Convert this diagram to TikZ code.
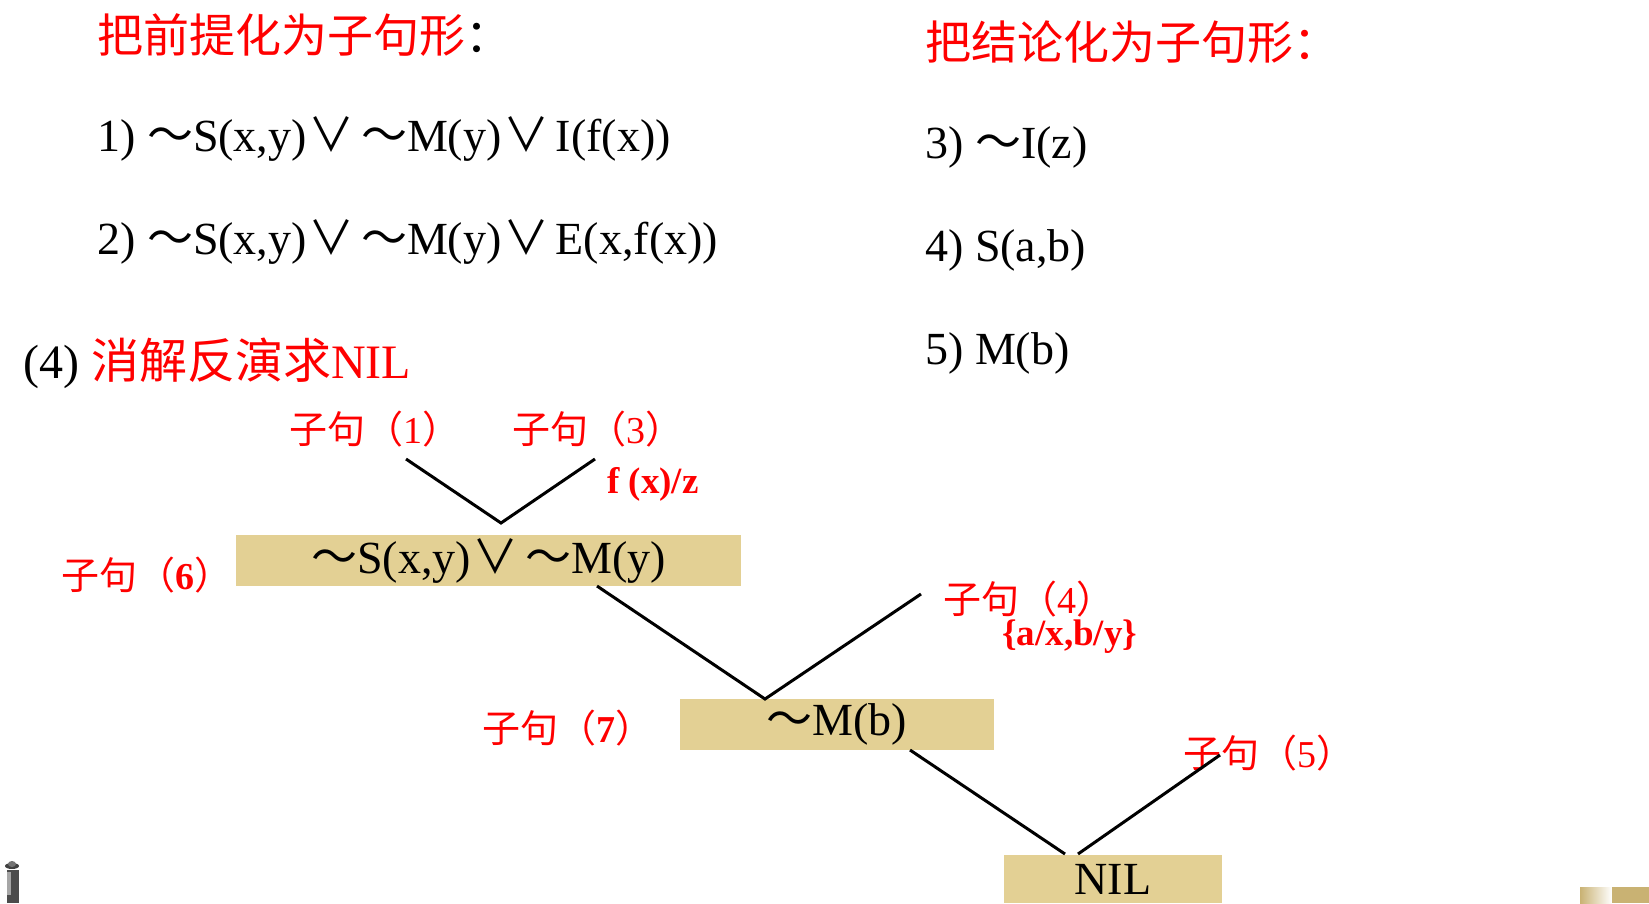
\documentclass[tikz,border=0pt]{standalone}
\usepackage{fontspec}
\setmainfont{Liberation Serif}
\newfontfamily\cjk{Noto Sans CJK SC}
\definecolor{boxfill}{RGB}{227,208,148}
\definecolor{deco}{RGB}{201,178,115}
\newcommand\nt{{\cjk ～}}
\newcommand\myor{\hspace{0.04em}{\cjk ∨}\hspace{0.14em}}
\tikzset{
  big/.style={anchor=west,inner sep=0pt,font=\fontsize{46}{50}\selectfont},
  lab/.style={anchor=west,inner sep=0pt,text=red,font=\fontsize{38}{40}\selectfont},
  sub/.style={anchor=west,inner sep=0pt,text=red,font=\fontsize{37}{40}\selectfont\bfseries},
  resbox/.style={fill=boxfill,inner sep=0pt,font=\fontsize{46}{50}\selectfont},
  edge/.style={line width=3pt}
}
\begin{document}
\begin{tikzpicture}[x=1pt,y=-1pt]
\useasboundingbox (0,0) rectangle (1649,903);
% premises
\node[big,text=red] (t1) at (97,35) {\cjk 把前提化为子句形\textcolor{black}{：}};
\node[big] (p1) at (97,139) {1) \nt S(x,y)\myor\nt M(y)\myor I(f(x))};
\node[big] (p2) at (97,242) {2) \nt S(x,y)\myor\nt M(y)\myor E(x,f(x))};
\node[big,font=\fontsize{48}{50}\selectfont] (t4) at (23,363) {(4) \textcolor{red}{{\cjk 消解反演求}NIL}};
% conclusion
\node[big,text=red] (t2) at (925,42) {\cjk 把结论化为子句形：};
\node[big] (p3) at (925,147) {3) \nt I(z)};
\node[big] (p4) at (925,250) {4) S(a,b)};
\node[big] (p5) at (925,353) {5) M(b)};
% tree labels
\node[lab] (l1) at (289,429) {{\cjk 子句（}1{\cjk ）}};
\node[lab] (l3) at (512,429) {{\cjk 子句（}3{\cjk ）}};
\node[sub] (s1) at (607,484) {f (x)/z};
\node[lab] (l6) at (61,575) {{\cjk 子句（}\textbf{6}{\cjk ）}};
\node[lab] (l4) at (943,599) {{\cjk 子句（}4{\cjk ）}};
\node[sub] (s2) at (1002,637) {\{a/x,b/y\}};
\node[lab] (l7) at (482,728) {{\cjk 子句（}\textbf{7}{\cjk ）}};
\node[lab] (l5) at (1183,753) {{\cjk 子句（}5{\cjk ）}};
% boxes
\node[resbox,minimum width=505pt,minimum height=51pt] (b6) at (488.5,560.5) {\nt S(x,y)\myor\nt M(y)};
\node[resbox,minimum width=314pt,minimum height=51pt] (b7) at (837,724.5) {\nt M(b)};
\node[resbox,minimum width=218pt,minimum height=48pt] (b8) at (1113,879) {NIL};
% connector ends
\coordinate (a1) at (406,459);
\coordinate (a3) at (595,459);
\coordinate (v1) at (501,523);
\coordinate (c6) at (597,586);
\coordinate (v2) at (765,699);
\coordinate (a4) at (921,594);
\coordinate (c7) at (910,750);
\coordinate (v3) at (1065,854);
\coordinate (v4) at (1078,854);
\coordinate (a5) at (1220,755);
\draw[edge] (a1) -- (v1) -- (a3);
\draw[edge] (c6) -- (v2) -- (a4);
\draw[edge] (c7) -- (v3);
\draw[edge] (v4) -- (a5);
% decorations
\shade[left color=deco,right color=white] (1580,887) rectangle (1612,903);
\fill[deco] (1612,887) rectangle (1649,903);
\fill[black!70] (7,870) rectangle (19,903);
\fill[black!35] (7,872) rectangle (11,895);
\fill[black!75] (12,866) ellipse (7pt and 3pt);
\fill[black!55] (12,864) ellipse (4pt and 3pt);
\end{tikzpicture}
\end{document}
